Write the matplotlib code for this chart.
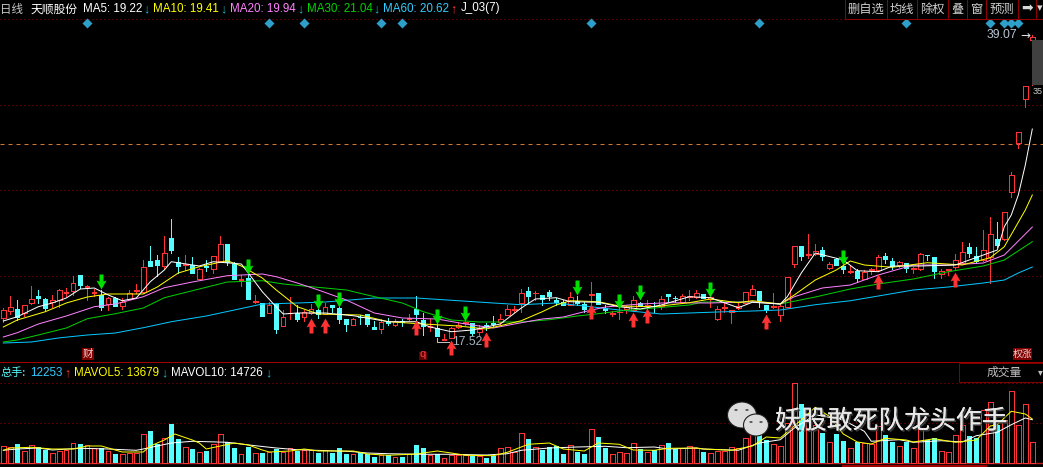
import numpy as np
import matplotlib
matplotlib.use('Agg')
import matplotlib.pyplot as plt
import matplotlib.patheffects as pe
from matplotlib.path import Path
from matplotlib.patches import Rectangle, Circle, Ellipse

plt.rcParams['font.family'] = ['Noto Sans CJK SC', 'DejaVu Sans']

opens = [19.41,19.90,20.02,19.72,20.46,20.93,20.72,20.49,20.65,21.16,
21.30,22.40,21.56,21.14,21.00,20.35,20.79,20.25,20.74,21.30,
21.19,23.36,23.43,23.05,24.97,23.33,23.08,23.08,22.14,23.05,
22.84,23.38,24.55,23.15,22.05,22.17,20.53,20.44,19.76,20.35,
18.85,19.72,19.74,19.44,19.72,19.95,19.69,20.30,20.07,19.32,
18.92,19.48,19.65,18.74,18.64,19.13,18.88,19.20,19.30,20.02,
19.25,18.74,18.69,17.87,18.01,18.78,19.04,19.04,18.43,18.92,
19.06,19.11,19.62,19.93,20.46,21.28,21.12,21.00,21.21,20.65,
20.53,20.30,20.58,20.37,21.02,21.14,20.07,19.69,19.79,20.02,
19.95,20.42,20.28,20.23,20.23,21.05,20.79,20.53,20.88,20.88,
21.07,20.74,19.30,20.09,19.83,20.07,20.46,21.02,21.26,20.30,
20.14,19.58,20.18,23.19,24.43,23.78,23.87,24.13,22.91,23.52,
23.05,22.63,22.68,22.12,22.75,22.73,23.73,23.38,23.10,23.22,
22.80,22.80,23.80,23.66,22.47,22.75,22.94,23.26,24.34,23.73,
23.45,23.68,24.92,24.92,28.21,31.64,34.72,38.85]
closes = [19.95,20.14,19.37,20.28,20.70,20.72,20.02,20.63,21.33,21.19,
21.82,21.63,21.61,21.19,20.11,20.77,20.18,20.49,21.12,21.33,
22.94,22.98,23.05,23.92,24.10,22.98,23.15,22.49,22.80,22.87,
23.71,24.55,23.22,22.07,22.14,20.67,20.56,19.48,20.32,18.55,
19.46,19.76,19.27,19.79,20.00,19.60,20.16,20.11,19.27,18.88,
19.32,19.41,18.90,18.55,19.11,18.97,19.18,19.04,19.37,19.62,
18.74,18.81,18.06,17.94,18.67,18.88,19.09,18.27,18.64,18.74,
18.88,19.30,20.00,20.00,21.12,20.84,21.16,20.65,20.88,20.46,
20.23,20.84,20.37,19.95,21.07,20.32,19.88,19.74,19.83,20.18,
20.63,20.18,20.32,20.18,20.70,20.86,20.72,20.91,20.91,21.12,
20.70,20.84,20.00,20.14,19.93,20.23,21.19,21.40,20.60,19.86,
20.23,20.23,22.24,24.41,23.68,23.87,24.06,23.68,23.17,23.05,
22.77,22.68,22.12,22.59,22.82,23.64,23.45,22.98,23.29,22.80,
22.87,23.85,23.75,22.61,22.66,22.80,23.43,23.99,23.87,23.31,
24.13,25.25,24.43,26.79,29.40,32.41,35.63,39.05]
highs = [20.07,20.93,20.65,20.32,21.63,21.35,20.77,21.00,21.42,21.47,
22.33,22.40,21.70,21.40,21.35,20.84,20.84,20.77,21.35,21.77,
23.45,24.43,23.80,25.13,26.32,23.68,23.78,23.64,22.87,23.45,
23.73,25.13,24.57,23.33,22.38,22.52,21.00,20.44,20.53,20.42,
19.95,20.88,20.30,19.95,20.37,20.00,20.42,20.30,20.14,19.32,
19.39,19.58,19.67,19.20,19.32,19.37,19.30,19.30,19.67,20.93,
19.76,19.30,19.13,18.27,18.78,19.13,19.37,19.06,18.88,19.02,
19.53,19.67,20.30,20.23,21.42,21.58,21.28,21.00,21.35,20.77,
20.65,21.21,20.93,20.53,21.91,21.14,20.30,19.90,20.07,20.23,
20.93,20.53,20.65,20.53,20.93,21.05,20.93,21.07,21.35,21.35,
21.07,21.12,20.23,20.42,19.95,20.42,21.21,21.70,21.26,20.30,
21.16,20.35,22.26,24.43,24.43,25.27,24.57,24.34,23.33,23.57,
23.22,23.10,22.80,22.75,22.89,23.80,23.92,23.57,23.38,23.22,
22.94,23.92,23.80,23.66,22.80,22.80,23.85,24.69,24.66,24.38,
25.55,26.44,26.09,26.79,29.61,32.41,35.63,39.20]
lows = [19.13,19.67,19.25,19.53,20.35,20.42,19.95,20.16,20.18,20.93,
21.00,21.51,20.65,20.93,19.95,19.95,20.16,20.02,20.70,21.12,
21.12,22.96,22.33,22.80,23.96,22.52,22.75,22.47,22.12,22.70,
22.56,23.33,23.10,22.05,21.63,20.65,20.46,19.48,19.72,18.36,
18.83,19.30,19.20,19.20,19.67,19.39,19.67,19.83,19.02,18.50,
18.90,18.97,18.85,18.55,18.36,18.88,18.83,18.83,19.25,18.78,
18.20,18.48,18.04,17.85,17.97,18.67,18.90,18.20,18.13,18.55,
18.83,18.97,19.58,19.81,19.83,20.53,20.65,20.30,20.65,20.30,
20.23,20.28,20.30,19.83,20.18,20.30,19.72,19.53,19.32,19.76,
19.90,20.14,19.95,19.83,20.00,20.58,20.53,20.42,20.65,20.77,
20.70,20.18,19.27,19.79,19.06,20.02,20.42,21.00,20.18,19.83,
20.11,19.20,20.16,22.98,23.45,23.61,23.82,23.45,22.80,23.03,
22.56,22.52,21.93,22.10,22.47,22.68,23.26,22.80,22.98,22.63,
22.52,22.75,23.45,22.19,22.19,22.40,22.80,23.22,23.64,23.22,
23.40,21.86,24.38,24.85,27.86,31.29,34.16,35.70]

volumes = [11900,11200,13300,8400,12600,11200,8900,7000,8200,9100,
14000,13300,12600,10300,10500,8400,6300,6300,7000,7000,
20300,22400,13300,17500,27300,16800,11200,9800,7700,8400,
13300,20300,14700,10500,6300,11200,7000,7000,7700,9800,
7700,10500,8400,9100,8900,7000,9100,7000,10500,6300,
6300,7700,6300,4200,5600,5600,4200,4200,6300,12600,
10500,5600,6300,3500,5600,5600,5600,4900,4900,3500,
4900,10500,11200,7700,21000,16800,11200,9100,11200,11900,
6300,12600,7700,6300,23800,18200,10500,6300,7700,7000,
14000,9800,7700,8900,12600,14000,9800,10500,11900,10500,
7700,7000,8400,8400,11200,10500,17500,20300,25900,16100,
13300,11900,28000,56000,41300,32900,26600,21000,14700,20300,
15400,10500,14700,14000,13300,25900,19600,14700,11900,14700,
10500,23800,16100,17500,8400,7700,19600,26600,18900,17500,
37100,42700,26600,30100,50400,26600,41300,14700]

# moving averages at these candle numbers
ma5_idx = [0,2,5,7,9,11,13,15,17,19,21,23,24,28,30,34,35,37,39,40,42,46,50,55,59,61,64,67,71,74,76,79,81,85,88,91,94,98,101,105,107,111,112,114,116,120,122,125,127,131,136,140,142,143,144,145,146,147]
ma5 = [19.18,19.48,20.18,20.44,20.79,21.42,21.49,21.00,20.60,20.79,21.93,22.75,23.33,23.03,23.33,23.17,22.54,21.23,20.16,19.67,19.74,19.74,19.55,19.13,19.13,18.76,18.43,18.55,18.97,20.09,20.72,20.81,20.53,20.49,20.18,20.02,20.30,20.88,20.81,20.11,20.49,20.37,20.88,22.54,23.94,23.45,22.70,22.63,23.03,23.03,23.10,23.80,24.15,25.78,26.60,28.00,30.10,32.62]
ma10_idx = [0,2,6,9,12,15,20,22,25,28,32,34,37,39,42,45,51,55,60,65,69,74,77,79,81,85,88,93,98,101,105,107,111,113,116,119,121,123,127,132,137,141,143,146,147]
ma10 = [18.76,19.25,19.83,20.44,20.86,21.07,21.07,21.56,22.54,22.98,23.40,23.03,22.19,21.35,20.18,19.67,19.60,19.13,18.97,18.83,18.62,19.20,19.83,20.30,20.60,20.53,20.23,20.18,20.46,20.72,20.46,20.60,20.37,21.00,22.05,22.75,23.38,23.10,22.94,23.26,23.10,23.61,24.38,26.95,28.00]
ma20_idx = [0,2,5,9,13,16,20,23,27,32,37,39,42,45,49,53,57,62,66,70,74,77,80,83,86,91,95,101,107,111,113,117,121,125,130,135,140,143,147]
ma20 = [18.06,18.36,18.97,19.53,20.18,20.37,20.88,21.51,21.91,22.35,22.47,22.28,21.84,21.35,20.65,19.74,19.39,19.32,18.97,18.69,19.06,19.32,19.46,19.83,20.16,20.37,20.46,20.44,20.53,20.37,20.88,21.49,21.70,22.40,23.10,23.10,23.24,23.80,25.76]
ma30_idx = [0,2,5,9,12,16,20,23,28,32,37,40,44,49,52,57,60,64,68,74,78,82,85,88,93,98,100,107,111,116,121,125,130,135,140,143,147]
ma30 = [17.71,17.85,18.20,18.69,19.34,19.69,20.09,20.81,21.42,21.91,22.00,21.77,21.58,21.35,21.00,20.44,19.83,19.25,19.11,19.11,19.27,19.53,19.69,19.88,20.09,20.30,20.51,20.51,20.37,20.86,21.42,21.77,22.12,22.63,23.03,23.45,24.73]
ma60_idx = [0,4,8,12,16,20,24,29,33,37,42,46,53,59,65,70,74,79,83,88,94,98,102,107,111,116,121,125,130,135,140,143,145,147]
ma60 = [17.64,17.71,18.00,18.20,18.34,18.71,19.13,19.53,19.95,20.37,20.44,20.51,20.79,20.79,20.60,20.44,20.32,20.44,20.23,19.95,19.67,19.74,19.81,19.88,19.95,20.32,20.60,20.93,21.35,21.56,21.84,22.05,22.54,22.96]

mavol5_idx = [0,1,4,7,10,12,14,16,17,20,21,23,24.5,27,28,29,31,33,35,37,38,41,43,45,49,
50,52,55,59,61,62,64,66,70,72,75,78,80,83,85,88,90,93,95,99,
100,104,107,109,111,113,116,118,120,122,124,126,129,130,133,136,139,141,142,144,146,147]
mavol5 = [8900,10500,11000,9800,9800,11900,11900,9100,7700,7700,11900,16100,20300,16100,14000,9800,11900,14000,12600,9100,7700,8400,9800,8400,8400,
8400,6300,5400,6300,7700,8400,7000,5400,5100,7500,13100,14000,9800,8400,14000,13100,9100,8900,10300,10500,
9800,8900,11900,18200,17500,25900,39000,32700,20300,14700,13300,17300,16100,14700,17000,14500,16100,25900,26800,36200,34300,30800]
mavol10_idx = [0,2,5,7,11,15,19,20,24,27,32,36,39,42,49,
50,52,55,60,64,69,72,74,78,82,86,89,93,95,99,
100,105,108,111,113,116,120,123,124,128,130,134,137,139,142,144,146,147]
mavol10 = [8900,9800,10500,9100,10300,9800,8900,9800,14000,15200,14500,12100,10500,9300,8200,
7900,7000,6500,6100,6100,5600,6500,8900,10500,11200,11700,10700,11200,9800,10500,
9800,8900,14000,16300,24500,33800,30100,22200,15200,16300,14500,15600,14700,19100,21500,26800,31500,30300]

# signals: candle number and price of the arrow tip
down_idx = [14,35,45,48,62,66,82,88,91,101,120]
down_tip = [21.42,22.47,20.02,20.16,18.97,19.18,21.00,20.02,20.65,20.86,23.10]
up_idx = [44,46,59,64,69,84,90,92,109,125,136]
up_tip = [19.39,19.39,19.25,17.85,18.41,20.37,19.81,20.09,19.67,22.47,22.61]
diamond_idx = [12,38,43,54,57,84,108,129,141,143,144,145]

grid_prices = [40.32,34.30,28.35,22.33]
last_price_line = 31.57
vol_grid = [56000,28000]

W, H = 1043, 467
RED = '#ff3333'
CYAN = '#55ffff'
BG = 'black'
THIN = 0.72
MA_LW = 0.72

opens = np.array(opens); closes = np.array(closes)
highs = np.array(highs); lows = np.array(lows)
volumes = np.array(volumes)
idx = np.arange(len(opens))
up = closes >= opens
x0, x1 = -3.3 / 7, (W - 3.3) / 7

fig = plt.figure(figsize=(W / 100, H / 100), dpi=100, facecolor=BG)
ax = fig.add_axes([0, 105 / H, 1, 362 / H], facecolor=BG)
axv = fig.add_axes([0, 0, 1, 104 / H], facecolor=BG)
for a in (ax, axv):
    a.set_xlim(x0, x1)
    a.set_xticks([])
    a.set_yticks([])
    for s in a.spines.values():
        s.set_visible(False)
ax.set_ylim(16.31, 41.65)
axv.set_ylim(-2800, 70000)

for p in grid_prices:
    ax.axhline(p, color='#a00000', lw=THIN, ls=(0, (1, 3)), zorder=1)
ax.axhline(last_price_line, color='#d07830', lw=THIN, ls=(0, (4, 4)), zorder=1)

# candles
body_top = np.maximum(opens, closes)
body_bot = np.minimum(opens, closes)
for mask, col in ((up, RED), (~up, CYAN)):
    ax.vlines(idx[mask], body_top[mask], highs[mask], color=col, lw=THIN, zorder=3, antialiased=False)
    ax.vlines(idx[mask], lows[mask], body_bot[mask], color=col, lw=THIN, zorder=3, antialiased=False)
ax.bar(idx[up], (body_top - body_bot)[up], bottom=body_bot[up], width=4.4 / 7,
       facecolor=BG, edgecolor=RED, linewidth=THIN, zorder=3, antialiased=False)
ax.bar(idx[~up], (body_top - body_bot)[~up], bottom=body_bot[~up], width=5.2 / 7,
       color=CYAN, linewidth=0, zorder=3, antialiased=False)

lines = [(ma60_idx, ma60, '#00c8ff'), (ma30_idx, ma30, '#00d000'),
         (ma20_idx, ma20, '#ff80ff'), (ma10_idx, ma10, '#ffff00'),
         (ma5_idx, ma5, '#ffffff')]
for xs, ys, col in lines:
    ax.plot(xs, ys, color=col, lw=MA_LW, zorder=4)

# arrow markers have their tip at the origin, so the tip sits on the price
dn = Path([(0, 0), (-5, 9), (-2, 8), (-2, 15), (2, 15), (2, 8), (5, 9), (0, 0)])
upm = Path([(0, 0), (-5, -9), (-2, -8), (-2, -15), (2, -15), (2, -8), (5, -9), (0, 0)])
ax.plot(down_idx, down_tip, ls='', marker=dn, ms=21.6, mfc='#00e000', mec='none', zorder=5)
ax.plot(up_idx, up_tip, ls='', marker=upm, ms=21.6, mfc='#ff3333', mec='none', zorder=5)
ax.plot(diamond_idx, [40.04] * len(diamond_idx), ls='', marker='D', ms=4.8, mfc='#2e9fc9', mec='none', zorder=5)

# volume
for p in vol_grid:
    axv.axhline(p, color='#a00000', lw=THIN, ls=(0, (1, 3)), zorder=1)
axv.axhline(0, color='#c02020', lw=1.0, zorder=2)
axv.bar(idx[up], volumes[up], width=4.4 / 7, facecolor=BG, edgecolor=RED, linewidth=THIN, zorder=3, antialiased=False)
axv.bar(idx[~up], volumes[~up], width=5.2 / 7, color=CYAN, linewidth=0, zorder=3, antialiased=False)
axv.plot(mavol10_idx, mavol10, color='white', lw=MA_LW, zorder=4)
axv.plot(mavol5_idx, mavol5, color='#ffff00', lw=MA_LW, zorder=4)


def put(x, y, s, color='white', size=8, font='Liberation Sans', **kw):
    return fig.text(x / W, 1 - y / H, s, color=color, fontsize=size,
                    family=[font, 'Noto Sans CJK SC', 'DejaVu Sans'], va='center', ha=kw.pop('ha', 'left'), **kw)


def box(x, y, w, h, **kw):
    fig.add_artist(Rectangle((x / W, 1 - (y + h) / H), w / W, h / H, transform=fig.transFigure, **kw))


# separator between the two panels
box(0, 361.5, W, 1.6, facecolor='#a00000', edgecolor='none')
box(842, 465, 145, 2, facecolor='#a00000', edgecolor='none')

# header
put(0, 9, '日线', '#c8c8c8', 8.3, 'Noto Sans CJK SC')
put(31, 9, '天顺股份', 'white', 8.5, 'Noto Sans CJK SC')
header = [(83, 'MA5: 19.22', '#ffffff', 146, '↓', '#20b0c0'), (153, 'MA10: 19.41', '#ffff00', 223, '↓', '#20b0c0'),
          (230, 'MA20: 19.94', '#ff80ff', 300, '↓', '#20b0c0'), (307, 'MA30: 21.04', '#00d000', 376, '↓', '#20b0c0'),
          (383, 'MA60: 20.62', '#33ccff', 453, '↑', RED)]
for x, s, col, arrow_x, arrow, arrow_col in header:
    put(x, 8.5, s, col, 8.4)
    put(arrow_x, 9.5, arrow, arrow_col, 9, ha='center')
put(461, 8.5, 'J_03(7)', 'white', 8.4)

# buttons top right
edges = [845, 887, 917, 948, 967, 986, 1018, 1036, 1043]
labels = ['删自选', '均线', '除权', '叠', '窗', '预测', '', '']
box(845, -1, 198, 20, facecolor=BG, edgecolor='none', zorder=6)
for a_, b_, s in zip(edges[:-1], edges[1:], labels):
    box(a_, -1, b_ - a_, 20, facecolor='none', edgecolor='#900000', lw=THIN, zorder=7)
    if s:
        put((a_ + b_) / 2, 9, s, '#d0d0d0', 8.8, 'Noto Sans CJK SC', ha='center', zorder=8)
put(1027, 8, '➡', '#d8d8d8', 10, 'DejaVu Sans', ha='center', zorder=8)
put(1040, 8, '▾', '#d8d8d8', 8, 'DejaVu Sans', ha='center', zorder=8)

# price labels
box(1032, 40, 11, 45, facecolor='#404040', edgecolor='none', zorder=6)
put(987, 35, '39.07', '#b8c4d0', 8.8)
put(1020, 35, '→', '#e0e0e0', 8.6, 'DejaVu Sans', ha='left')
put(1033, 92, '35', '#c8c8c8', 6.5)
put(452, 342, '17.52', '#a8b4c0', 8.8)
fig.add_artist(plt.Line2D([437 / W, 437 / W, 449 / W], [1 - 338 / H, 1 - 342 / H, 1 - 342 / H],
                          color='#c0c0c0', lw=THIN, transform=fig.transFigure))

# event tags
box(82, 348, 12, 12, facecolor='#800000', edgecolor='none')
put(88, 354, '财', '#f0d0d0', 7.5, 'Noto Sans CJK SC', ha='center')
box(419, 352, 8, 8, facecolor='#600000', edgecolor='none')
put(423, 354, 'q', '#ff4040', 8, ha='center')
box(1013, 348, 19, 12, facecolor='#800000', edgecolor='none')
put(1022.5, 354, '权涨', '#f0d0d0', 7, 'Noto Sans CJK SC', ha='center')

# volume header
put(0, 373, '总手:', '#55ffff', 8, 'Noto Sans CJK SC')
put(30, 373, '12253', '#33ccff', 8.4)
put(67, 373.5, '↑', RED, 9, ha='center')
put(74, 373, 'MAVOL5: 13679', '#ffff00', 8.4)
put(164, 373.5, '↓', '#20b0c0', 9, ha='center')
put(171, 373, 'MAVOL10: 14726', '#ffffff', 8.4)
put(268, 373.5, '↓', '#20b0c0', 9, ha='center')

box(959, 363, 90, 19, facecolor=BG, edgecolor='#800000', lw=THIN, zorder=6)
put(987, 372, '成交量', '#c0c0c0', 8.5, 'Noto Sans CJK SC', zorder=7)
put(1040, 372, '▾', '#c0c0c0', 7, 'DejaVu Sans', ha='center', zorder=7)

# watermark
for cx, cy, rx, ry in ((742, 415, 14.5, 13), (756, 425, 12.5, 11)):
    fig.add_artist(Ellipse((cx / W, 1 - cy / H), 2 * rx / W, 2 * ry / H, transform=fig.transFigure,
                           facecolor='#dcdcdc', edgecolor='#202020', lw=0.8, zorder=8))
for ex, ey in ((736, 410), (747, 410), (751, 422), (761, 422)):
    fig.add_artist(Circle((ex / W, 1 - ey / H), 1.7 / W, transform=fig.transFigure,
                          facecolor='#303030', edgecolor='none', zorder=9))
wm = put(775, 421, '妖股敢死队龙头作手', '#e8e8e8', 18.6, 'Noto Sans CJK SC', zorder=10)
wm.set_path_effects([pe.withSimplePatchShadow(offset=(1.2, -1.2), shadow_rgbFace='#404040', alpha=0.9), pe.Normal()])

fig.savefig('out.png', dpi=100, facecolor=BG)
